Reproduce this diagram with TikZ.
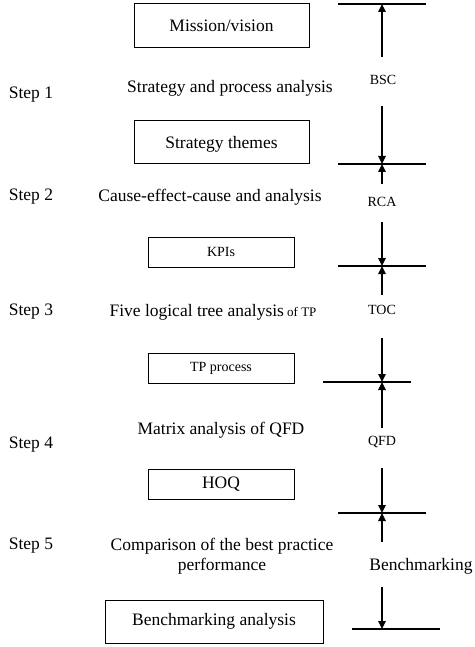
\documentclass[tikz,border=0pt]{standalone}
\usepackage{fontspec}
\setmainfont{Liberation Serif}
\usetikzlibrary{arrows.meta}
\newcommand{\demi}{44pt}
\tikzstyle{boite}=[draw, line width=1pt, inner sep=0pt]
\tikzstyle{gros}=[font=\fontsize{17.5}{20}\selectfont]
\tikzstyle{petit}=[font=\fontsize{14}{16}\selectfont]
\tikzstyle{trait}=[line width=1.5pt]
\tikzstyle{fleche}=[line width=1.5pt, -{Triangle[length=8pt,width=7.5pt]}]
\begin{document}
\begin{tikzpicture}[x=1pt,y=-1pt]
\useasboundingbox (0,0) rectangle (474,647);

% boites
\node[boite, gros, minimum width=175pt, minimum height=44pt] (mission) at (221.5,26) {Mission/vision};
\node[boite, gros, minimum width=175pt, minimum height=43pt, text depth=0pt] (themes) at (221.5,142.5) {Strategy themes};
\node[boite, petit, minimum width=146pt, minimum height=30pt] (kpi) at (221,252) {KPIs};
\node[boite, petit, minimum width=146pt, minimum height=30pt] (tp) at (221,368) {TP process};
\node[boite, gros, minimum width=146pt, minimum height=30pt] (hoq) at (221,484) {HOQ};
\node[boite, gros, minimum width=218pt, minimum height=43pt] (bench) at (214,621.5) {Benchmarking analysis};

% etapes
\node[gros] (step1) at (31,95) {Step 1};
\node[gros] (step2) at (31,197) {Step 2};
\node[gros] (step3) at (31,312) {Step 3};
\node[gros] (step4) at (31,445) {Step 4};
\node[gros] (step5) at (31,546) {Step 5};

% analyses
\node[gros] (ana1) at (230,88) {Strategy and process analysis};
\node[gros] (ana2) at (210,197) {Cause-effect-cause and analysis};
\node[gros] (ana3) at (213,312) {Five logical tree analysis\fontsize{13}{15}\selectfont\ of TP};
\node[gros] (ana4) at (221,430) {Matrix analysis of QFD};
\node[gros, align=center] (ana5) at (222,556) {Comparison of the best practice\\performance};

% outils
\node[petit] (bsc) at (383,80) {BSC};
\node[petit] (rca) at (382,202) {RCA};
\node[petit] (toc) at (382,310) {TOC};
\node[petit] (qfd) at (382,442) {QFD};
\node[gros] (bmk) at (421,566) {Benchmarking};

% traits horizontaux
\coordinate (h1) at (382,4);
\coordinate (h2) at (382,164);
\coordinate (h3) at (382,266);
\coordinate (h4) at (382,382);
\coordinate (h5) at (382,513);
\coordinate (h6) at (382,629);
\foreach \h in {h1,h2,h3,h5}
\draw[trait] ([xshift=-\demi]\h) -- ([xshift=\demi]\h);
\draw[trait] ([xshift=-59pt]h4) -- ([xshift=29pt]h4);
\draw[trait] ([xshift=-30pt]h6) -- ([xshift=58pt]h6);

% fleches
\coordinate (a1) at (382,57);
\coordinate (b1) at (382,106);
\coordinate (b2) at (382,184);
\coordinate (c1) at (382,222);
\coordinate (c2) at (382,295);
\coordinate (d1) at (382,338);
\coordinate (d2) at (382,428);
\coordinate (e1) at (382,468);
\coordinate (e2) at (382,542);
\coordinate (f1) at (382,587);
\draw[fleche] (a1) -- (h1);
\draw[fleche] (b1) -- (h2);
\draw[fleche] (b2) -- (h2);
\draw[fleche] (c1) -- (h3);
\draw[fleche] (c2) -- (h3);
\draw[fleche] (d1) -- (h4);
\draw[fleche] (d2) -- (h4);
\draw[fleche] (e1) -- (h5);
\draw[fleche] (e2) -- (h5);
\draw[fleche] (f1) -- (h6);

\end{tikzpicture}
\end{document}
